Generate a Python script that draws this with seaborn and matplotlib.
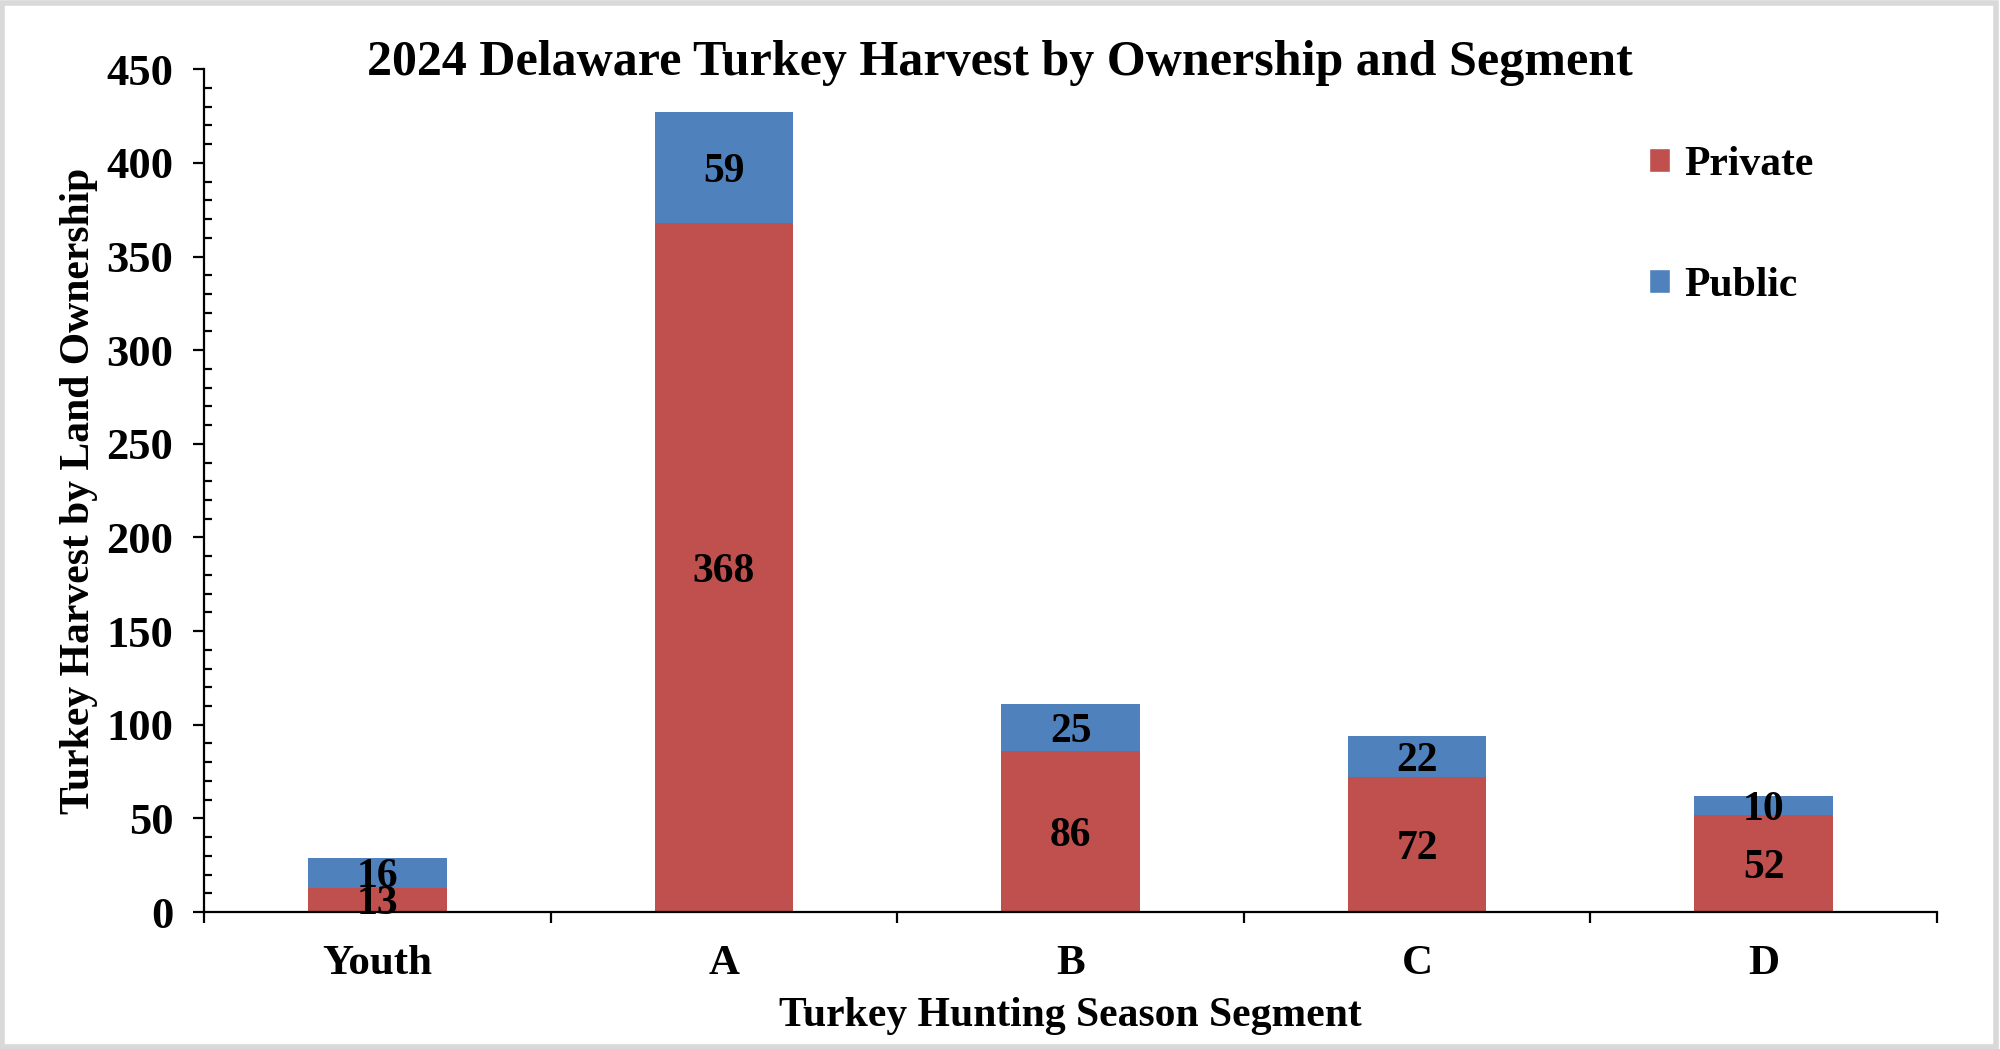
import numpy as np
import pandas as pd
import matplotlib
matplotlib.use("Agg")
import matplotlib.pyplot as plt
import seaborn as sns
from matplotlib.patches import Patch, Rectangle

segments = ["Youth", "A", "B", "C", "D"]
private = [13, 368, 86, 72, 52]
public = [16, 59, 25, 22, 10]

RED = "#C0504D"
BLUE = "#4F81BD"

df = pd.DataFrame({"segment": segments, "Private": private, "Public": public})
df["Total"] = df["Private"] + df["Public"]

sns.set_theme(style="white")
plt.rcParams["font.family"] = ["Liberation Serif", "DejaVu Serif"]
plt.rcParams["font.weight"] = "bold"
plt.rcParams["text.color"] = "black"
plt.rcParams["axes.labelcolor"] = "black"
plt.rcParams["xtick.color"] = "black"
plt.rcParams["ytick.color"] = "black"

fig = plt.figure(figsize=(20, 10.49), dpi=100)
ax = fig.add_axes([0.102, 0.1306, 0.8665, 0.8034])

# stacked: draw totals in blue, private on top in red
sns.barplot(data=df, x="segment", y="Total", color=BLUE, width=0.4, saturation=1,
            linewidth=0, ax=ax)
sns.barplot(data=df, x="segment", y="Private", color=RED, width=0.4, saturation=1,
            linewidth=0, ax=ax)

for i, row in df.iterrows():
    ax.text(i, row["Private"] / 2, str(row["Private"]), ha="center", va="center_baseline",
            fontsize=30, fontweight="bold", color="black")
    ax.text(i, row["Private"] + row["Public"] / 2, str(row["Public"]), ha="center",
            va="center_baseline", fontsize=30, fontweight="bold", color="black")

ax.set_xlim(-0.5, 4.5)
ax.set_ylim(0, 450)
ax.set_yticks(np.arange(0, 451, 50))
ax.set_yticks(np.arange(0, 451, 10), minor=True)
ax.set_xticks(np.arange(-0.5, 5, 1))
ax.set_xticklabels([])
ax.set_xticks(range(len(segments)), minor=True)
ax.set_xticklabels(segments, minor=True)

for s in ["top", "right"]:
    ax.spines[s].set_visible(False)
for s in ["left", "bottom"]:
    ax.spines[s].set_linewidth(1.6)
    ax.spines[s].set_color("black")

ax.tick_params(axis="y", which="major", direction="out", length=8, width=1.6,
               labelsize=32, pad=14, left=True, color="black")
ax.tick_params(axis="y", which="minor", direction="in", length=6, width=1.6, left=True, color="black")
ax.tick_params(axis="x", which="major", direction="out", length=8, width=1.6, bottom=True, color="black")
ax.tick_params(axis="x", which="minor", length=0, labelsize=31, pad=24)
for lbl in ax.get_yticklabels() + ax.get_xticklabels(minor=True):
    lbl.set_fontweight("bold")

ax.set_xlabel("Turkey Hunting Season Segment", fontsize=30, fontweight="bold", labelpad=10)
ax.set_ylabel("Turkey Harvest by Land Ownership", fontsize=30, fontweight="bold", labelpad=6)
fig.text(0.5, 0.94, "2024 Delaware Turkey Harvest by Ownership and Segment",
         ha="center", va="center", fontsize=36, fontweight="bold")

handles = [Patch(facecolor=RED, label="Private"), Patch(facecolor=BLUE, label="Public")]
leg = ax.legend(handles=handles, loc="upper left", bbox_to_anchor=(0.812, 0.954),
                frameon=False, fontsize=30, handlelength=0.5, handleheight=0.5,
                handletextpad=0.35, labelspacing=2.0)
for t in leg.get_texts():
    t.set_fontweight("bold")

fig.patches.append(Rectangle((0.001, 0.002), 0.997, 0.995, transform=fig.transFigure,
                             fill=False, edgecolor="#D9D9D9", linewidth=4))

fig.savefig("out.png", dpi=100)
